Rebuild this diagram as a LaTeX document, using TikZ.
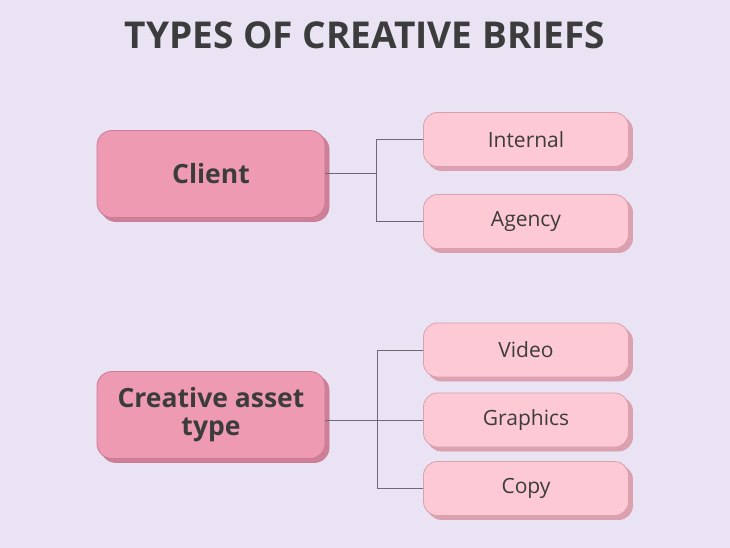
\documentclass[tikz,border=0pt]{standalone}
\usepackage{fontspec}
\setmainfont{Open Sans}
\usetikzlibrary{shadows}
\definecolor{bg}{HTML}{E9E3F4}
\definecolor{ink}{HTML}{3C3C3C}
\definecolor{mainfill}{HTML}{EE9AB3}
\definecolor{mainline}{HTML}{C97C95}
\definecolor{mainshadow}{HTML}{CF7F98}
\definecolor{subfill}{HTML}{FCC9D5}
\definecolor{subline}{HTML}{D9A0B0}
\definecolor{subshadow}{HTML}{DCA0AF}
\definecolor{wire}{HTML}{6E6A72}
\tikzset{
  mainbox/.style={draw=mainline, fill=mainfill, line width=0.8pt, rounded corners=15pt,
    minimum width=228pt, minimum height=87pt, text=ink, align=center,
    font=\fontsize{26.5}{28}\selectfont\bfseries,
    copy shadow={shadow xshift=4pt, shadow yshift=-4pt, fill=mainshadow, draw=mainline}},
  subbox/.style={draw=subline, fill=subfill, line width=0.8pt, rounded corners=14pt,
    minimum width=205pt, minimum height=54pt, text=ink,
    font=\fontsize{21}{24}\selectfont,
    copy shadow={shadow xshift=4pt, shadow yshift=-4pt, fill=subshadow, draw=subline}},
  wireline/.style={draw=wire, line width=1pt},
}
\begin{document}
\begin{tikzpicture}[x=1pt,y=-1pt]
\fill[bg] (0,0) rectangle (730,548);
\useasboundingbox (0,0) rectangle (730,548);
\node[text=ink, font=\fontsize{37}{40}\selectfont\bfseries] (title) at (365,35) {TYPES OF CREATIVE BRIEFS};
\node[mainbox] (client) at (211,174) {Client};
\node[mainbox] (asset) at (211,415) {Creative asset\\type};
\node[subbox] (internal) at (526,139.5) {Internal};
\node[subbox] (agency) at (526,221.5) {Agency};
\node[subbox] (video) at (526,350) {Video};
\node[subbox] (graphics) at (526,420) {Graphics};
\node[subbox] (copy) at (526,488.5) {Copy};
\coordinate (j1) at (376,0);
\coordinate (j2) at (377,0);
\draw[wireline] (client.east) -- (client.east -| j1);
\draw[wireline] (internal.west) -- (internal.west -| j1) -- (agency.west -| j1) -- (agency.west);
\draw[wireline] (asset.east |- graphics.west) -- (graphics.west);
\draw[wireline] (video.west) -- (video.west -| j2) -- (copy.west -| j2) -- (copy.west);
\end{tikzpicture}
\end{document}
